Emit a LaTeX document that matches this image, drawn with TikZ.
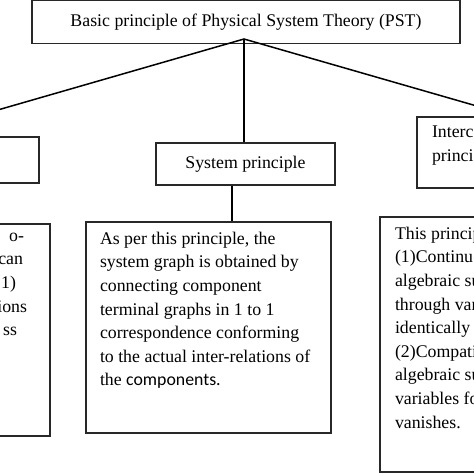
\documentclass[tikz,border=0pt]{standalone}
\usepackage{fontspec}
\setmainfont{Liberation Serif}
\newfontfamily\calibrifont{Carlito}
\usetikzlibrary{positioning,calc}
\definecolor{edge}{RGB}{40,40,40}

\begin{document}
\begin{tikzpicture}[
    x=1pt, y=-1pt,
    font=\fontsize{17.8}{23.6}\selectfont,
    box/.style={rectangle, draw=edge, line width=1.7pt, inner sep=0pt},
    head/.style={box, minimum width=428pt, minimum height=43pt},
    principle/.style={box, minimum height=42pt},
    desc/.style={box, inner xsep=14pt, inner ysep=10pt},
    link/.style={draw=black, line width=1.5pt}
]
    \useasboundingbox (0,0) rectangle (474,474);
    \clip (0,0) rectangle (474,474);

    % top of the tree
    \node[head] (pst) at (246,22) {Basic principle of Physical System Theory (PST)};
    \coordinate (hub) at (244,39);

    % the three principles
    \node[principle, minimum width=264pt, minimum height=46pt] (comp) at (-93,160) {};
    \node[principle, minimum width=179pt] (sys) at (245.5,164) {System principle};
    \node[box, inner xsep=15pt, inner ysep=9pt] (inter) at (512,152.5)
        {\parbox[c][53pt][t]{160pt}{Interc\\princi}};

    % what each principle says
    \node[desc, inner ysep=9pt] (compdesc) at (-72.5,330)
        {\parbox[c][194pt][t]{217pt}{\raggedleft
        o-\kern12pt\\can\kern13pt\\1)\kern20pt\\ions\kern9pt\\ss\kern19pt}};
    \node[desc] (sysdesc) at (208.5,327.5)
        {\parbox[c][191pt][t]{217pt}{\raggedright
        As per this principle, the\\
        system graph is obtained by\\
        connecting component\\
        terminal graphs in 1 to 1\\
        correspondence conforming\\
        to the actual inter-relations of\\
        the {\calibrifont components.}}};
    \node[desc, inner xsep=15pt] (interdesc) at (505,344.5)
        {\parbox[c][235pt][t]{220pt}{\raggedright
        This princip\\
        (1)Continu\\
        algebraic su\\
        through var\\
        identically\\
        (2)Compati\\
        algebraic su\\
        variables fo\\
        vanishes.}};

    % connectors
    \draw[link] (comp.north) -- (hub) -- (inter.north);
    \draw[link] (hub) -- (hub |- sys.north);
    \coordinate (drop) at ($(sys.south)+(-13.5,0)$);
    \draw[link] (drop) -- (drop |- sysdesc.north);
\end{tikzpicture}
\end{document}
